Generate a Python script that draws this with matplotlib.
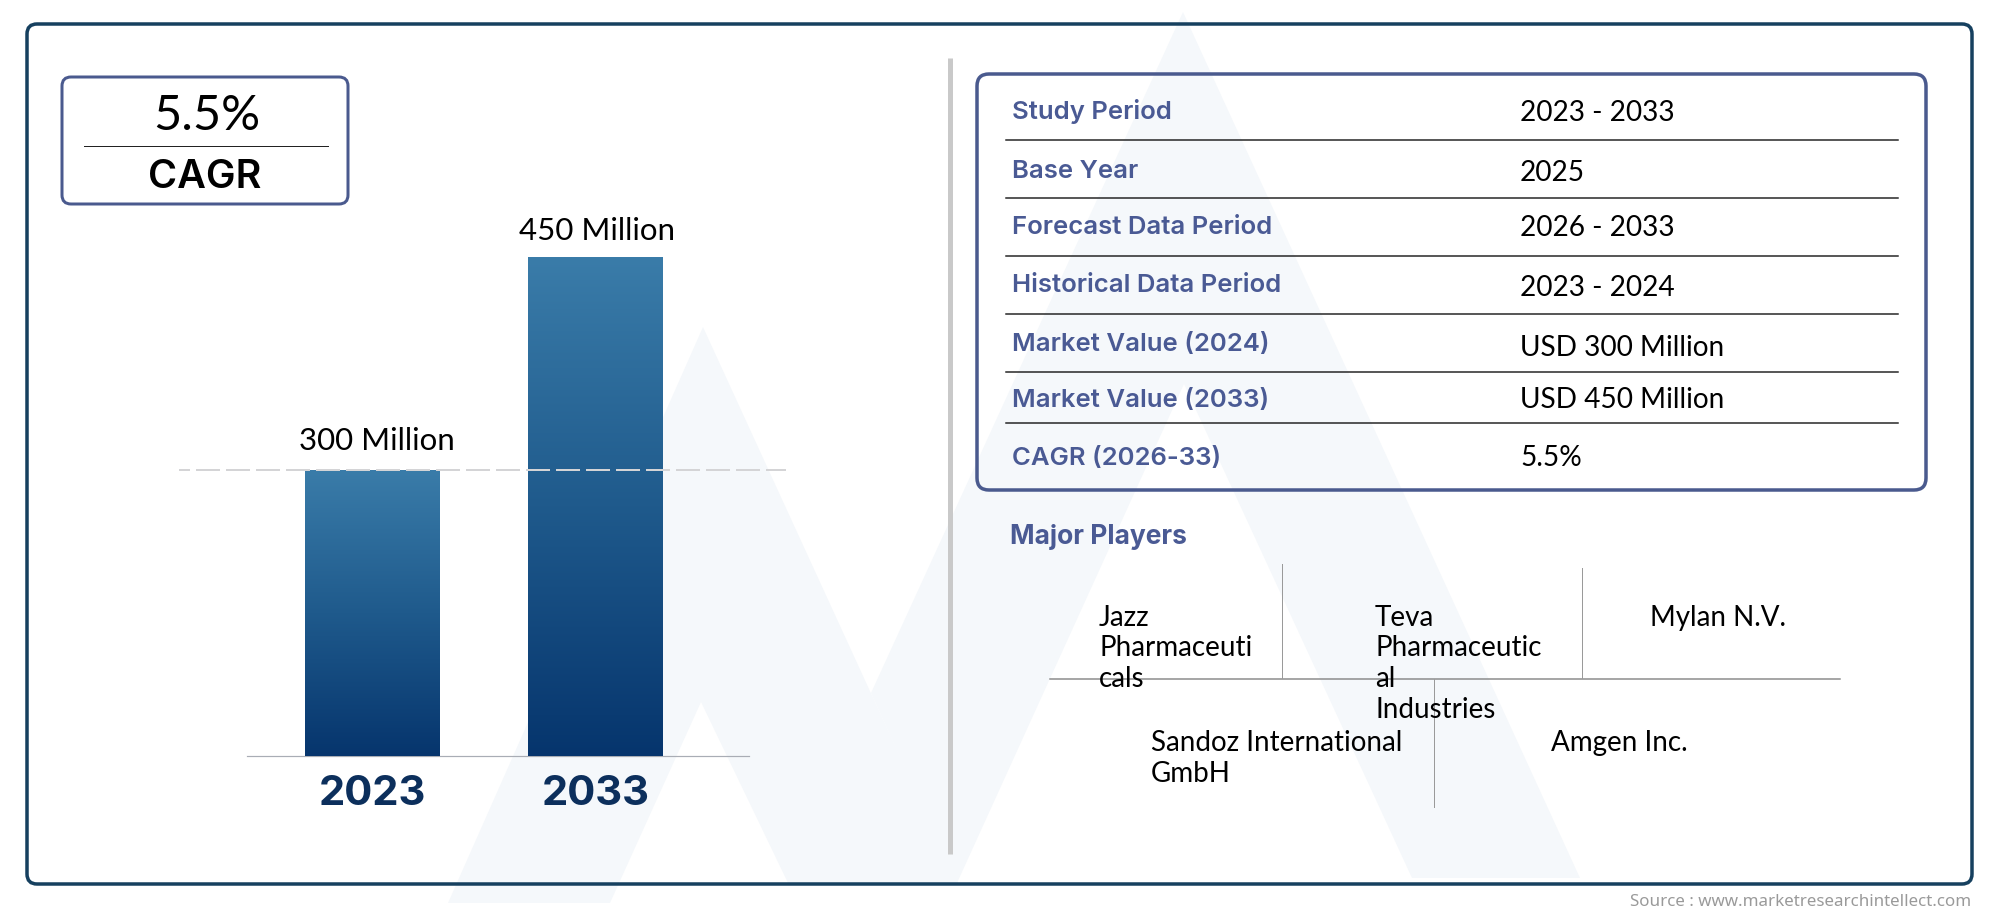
import numpy as np
import matplotlib
matplotlib.use("Agg")
import matplotlib.pyplot as plt
from matplotlib.colors import LinearSegmentedColormap
from matplotlib.patches import FancyBboxPatch, Polygon

# chart data
years = ["2023", "2033"]
market_values = [300, 450]
value_labels = ["300 Million", "450 Million"]

# table
row_names = ["Study Period", "Base Year", "Forecast Data Period", "Historical Data Period",
             "Market Value (2024)", "Market Value (2033)", "CAGR (2026-33)"]
row_values = ["2023 - 2033", "2025", "2026 - 2033", "2023 - 2024",
              "USD 300 Million", "USD 450 Million", "5.5%"]
players = ["Jazz\nPharmaceuti\ncals", "Teva\nPharmaceutic\nal\nIndustries", "Mylan N.V.",
           "Sandoz International\nGmbH", "Amgen Inc."]

plain_font = "Lato"
head_font = "Inter"
navy = "#16405f"
slate = "#4a5a8e"
label_blue = "#4a5a94"

plt.rcParams["lines.scale_dashes"] = False
PX = 0.72  # points per pixel at dpi 100

fig = plt.figure(figsize=(20, 9.17), dpi=100)

# page layer in pixel coordinates, y going down
page = fig.add_axes([0, 0, 1, 1], zorder=0)
page.set_xlim(0, 2000)
page.set_ylim(917, 0)
page.axis("off")

# watermark logo
page.add_patch(Polygon([(703, 327), (958, 883), (788, 883), (701, 702), (610, 903), (448, 903)],
                       fc="#f5f8fb", ec="none"))
page.add_patch(Polygon([(1183, 12), (1580, 878), (1412, 878), (1184, 384), (957, 883), (871, 693)],
                       fc="#f5f8fb", ec="none"))


def box(x0, y0, x1, y1, color, lw, radius):
    page.add_patch(FancyBboxPatch((x0, y0), x1 - x0, y1 - y0,
                                  boxstyle="round,pad=0,rounding_size=%d" % radius,
                                  fc="none", ec=color, lw=lw * PX))


box(27, 24, 1972, 884, navy, 3.5, 10)
box(62, 77, 348, 204, slate, 3, 9)
box(977, 74, 1926, 490, slate, 3.5, 12)

# CAGR box
page.text(207, 116, "5.5%", family=plain_font, fontsize=35, ha="center", va="center", color="black")
page.plot([84, 328], [146, 146], color="#222222", lw=1 * PX)
page.text(205, 178, "CAGR", family=head_font, fontsize=28.5, weight="semibold",
          ha="center", va="center", color="black")

# separator
page.plot([950, 950], [58, 854], color="#c9c9c9", lw=5 * PX, solid_capstyle="butt")

# table rows
name_y = [111, 171, 228, 286, 345, 400, 458]
value_y = [113, 173, 228, 288, 348, 400, 458]
rule_y = [140, 198, 256, 314, 372, 423]
for name, val, ny, vy in zip(row_names, row_values, name_y, value_y):
    page.text(1012, ny, name, family=head_font, fontsize=18.5, weight="semibold",
              ha="left", va="center", color=label_blue)
    page.text(1520, vy, val, family=plain_font, fontsize=20.2, ha="left", va="center", color="black")
for y in rule_y:
    page.plot([1006, 1898], [y, y], color="#222222", lw=1.5 * PX)

# major players
page.text(1010, 537, "Major Players", family=head_font, fontsize=19, weight="bold",
          ha="left", va="center", color=label_blue)
page.plot([1050, 1840], [679, 679], color="#8a8a8a", lw=1.5 * PX)
page.plot([1282, 1282], [564, 678], color="#9a9a9a", lw=1 * PX)
page.plot([1582, 1582], [568, 678], color="#9a9a9a", lw=1 * PX)
page.plot([1434, 1434], [679, 807], color="#9a9a9a", lw=1 * PX)
player_x = [1099, 1375, 1650, 1151, 1551]
player_y = [618, 618, 618, 743, 743]
for name, x, y in zip(players, player_x, player_y):
    for i, line in enumerate(name.split("\n")):
        page.text(x, y + i * 30.5, line, family=plain_font, fontsize=20, ha="left", va="center", color="black")

page.text(1971, 902, "Source : www.marketresearchintellect.com", family="Noto Sans", fontsize=12.2,
          ha="right", va="center", color="#9a9a9a")

# bar chart, 2023 and 2033 sit 223px apart, 300 -> 450 spans 213px
ax = fig.add_axes([247.3 / 2000, 1 - 755.6 / 917, 502 / 2000, (755.6 - 200) / 917], zorder=1)
ax.patch.set_alpha(0)
x = np.arange(len(years))
bars = ax.bar(x, market_values, width=0.605, color="#1f5a8c")
xlims = (-125 / 223, 377 / 223)
ylims = (98.6, 490)

cmap = LinearSegmentedColormap.from_list("bar_grad", ["#3a7ca9", "#1f5a8c", "#06356d"])
grad = np.linspace(0, 1, 256).reshape(-1, 1)
for b in bars:
    im = ax.imshow(grad, cmap=cmap, aspect="auto", zorder=3,
                   extent=[b.get_x(), b.get_x() + b.get_width(), ylims[0], b.get_height()])
    im.set_clip_path(b)
ax.set_xlim(xlims)
ax.set_ylim(ylims)

ax.axhline(market_values[0], xmin=-0.1355, xmax=1.0737, clip_on=False, zorder=4, color="#d4d4d6", lw=2 * PX,
           linestyle=(13 * PX, (24 * PX, 6 * PX)))

label_dy = [29, 26]
for i, (val, lab) in enumerate(zip(market_values, value_labels)):
    ax.annotate(lab, (i, val), xytext=((5 - 3 * i) * PX, label_dy[i] * PX), textcoords="offset points",
                family=plain_font, fontsize=22.5, ha="center", va="center", color="black")

for s in ["top", "left", "right"]:
    ax.spines[s].set_visible(False)
ax.spines["bottom"].set_color("#a9adb5")
ax.spines["bottom"].set_linewidth(1.2 * PX)
ax.set_yticks([])
ax.set_xticks(x)
ax.set_xticklabels(years, family=head_font, fontsize=30, weight="bold", color="#0c2f5c")
ax.tick_params(axis="x", length=0, pad=14)

fig.savefig("out.png", dpi=100)
